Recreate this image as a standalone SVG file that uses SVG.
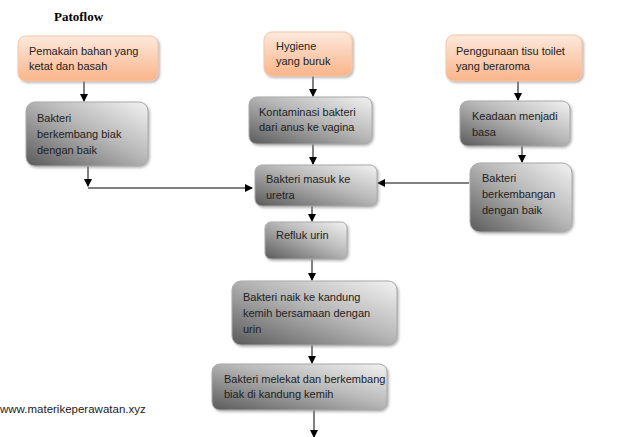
<svg xmlns="http://www.w3.org/2000/svg" width="640" height="437" viewBox="0 0 640 437">
<defs>
<linearGradient id="og" x1="0" y1="0" x2="0" y2="1"><stop offset="0" stop-color="#fde9dc"/><stop offset="1" stop-color="#f9b48a"/></linearGradient>
<linearGradient id="gg" x1="1" y1="0" x2="0" y2="1"><stop offset="0" stop-color="#f2f2f2"/><stop offset="0.45" stop-color="#b8b8b8"/><stop offset="1" stop-color="#5a5a5a"/></linearGradient>
<marker id="ar" markerWidth="8" markerHeight="8" refX="7" refY="4" orient="auto" markerUnits="userSpaceOnUse"><path d="M0,0 L8,4 L0,8 z" fill="#000"/></marker>
<filter id="sh"><feDropShadow dx="1.5" dy="1.5" stdDeviation="1" flood-color="#888" flood-opacity="0.6"/></filter>
</defs>
<style>
.o{fill:url(#og);stroke:#f4c8a8;stroke-width:1;filter:url(#sh)}
.g{fill:url(#gg);stroke:#aaa;stroke-width:1;filter:url(#sh)}
text{font-family:"Liberation Sans",Arial,sans-serif;font-size:11px;fill:#222}
.c line{stroke:#000;stroke-width:1;fill:none;marker-end:url(#ar)}
</style>
<rect width="640" height="437" fill="#fff"/>
<text x="54" y="21" style="font-family:'Liberation Serif',serif;font-weight:bold;font-size:13px;fill:#000">Patoflow</text>
<g class="c">
<line x1="84" y1="81" x2="84" y2="101"/>
<line x1="88" y1="166" x2="88" y2="186"/>
<line x1="88" y1="188" x2="252" y2="188"/>
<line x1="313" y1="76" x2="313" y2="96"/>
<line x1="313" y1="144" x2="313" y2="164"/>
<line x1="518" y1="81" x2="518" y2="100"/>
<line x1="522" y1="146" x2="522" y2="162"/>
<line x1="469" y1="183" x2="378" y2="183"/>
<line x1="312" y1="198" x2="312" y2="221"/>
<line x1="312" y1="259" x2="312" y2="280"/>
<line x1="312" y1="345" x2="312" y2="363"/>
<line x1="314" y1="410" x2="314" y2="437"/>
</g>
<g id="n1"><rect class="o" x="18" y="36" width="140" height="45" rx="8"/><text x="29" y="55">Pemakain bahan yang</text><text x="29" y="70">ketat dan basah</text></g>
<g id="n2"><rect class="g" x="26" y="102" width="122" height="64" rx="9"/><text x="37" y="122">Bakteri</text><text x="37" y="138">berkembang biak</text><text x="37" y="154">dengan baik</text></g>
<g id="n3"><rect class="o" x="264" y="32" width="88" height="44" rx="8"/><text x="276" y="50">Hygiene</text><text x="276" y="65">yang buruk</text></g>
<g id="n4"><rect class="g" x="249" y="97" width="123" height="47" rx="8"/><text x="259" y="116">Kontaminasi bakteri</text><text x="259" y="131">dari anus ke vagina</text></g>
<g id="n5"><rect class="o" x="446" y="35" width="136" height="46" rx="8"/><text x="456" y="55">Penggunaan tisu toilet</text><text x="456" y="70">yang beraroma</text></g>
<g id="n6"><rect class="g" x="460" y="101" width="110" height="45" rx="8"/><text x="472" y="120">Keadaan menjadi</text><text x="472" y="136">basa</text></g>
<g id="n7"><rect class="g" x="255" y="165" width="122" height="41" rx="7"/><text x="266" y="183">Bakteri masuk ke</text><text x="266" y="199">uretra</text></g>
<g id="n8"><rect class="g" x="470" y="163" width="102" height="69" rx="10"/><text x="482" y="182">Bakteri</text><text x="482" y="198">berkembangan</text><text x="482" y="214">dengan baik</text></g>
<g id="n9"><rect class="g" x="265" y="222" width="82" height="37" rx="6"/><text x="276" y="239">Refluk urin</text></g>
<g id="n10"><rect class="g" x="232" y="281" width="165" height="64" rx="9"/><text x="243" y="301">Bakteri naik ke kandung</text><text x="243" y="317">kemih bersamaan dengan</text><text x="243" y="333">urin</text></g>
<g id="n11"><rect class="g" x="212" y="364" width="175" height="46" rx="8"/><text x="224" y="383">Bakteri melekat dan berkembang</text><text x="224" y="398">biak di kandung kemih</text></g>
<text x="0" y="413" style="font-size:11.5px">www.materikeperawatan.xyz</text>
</svg>
